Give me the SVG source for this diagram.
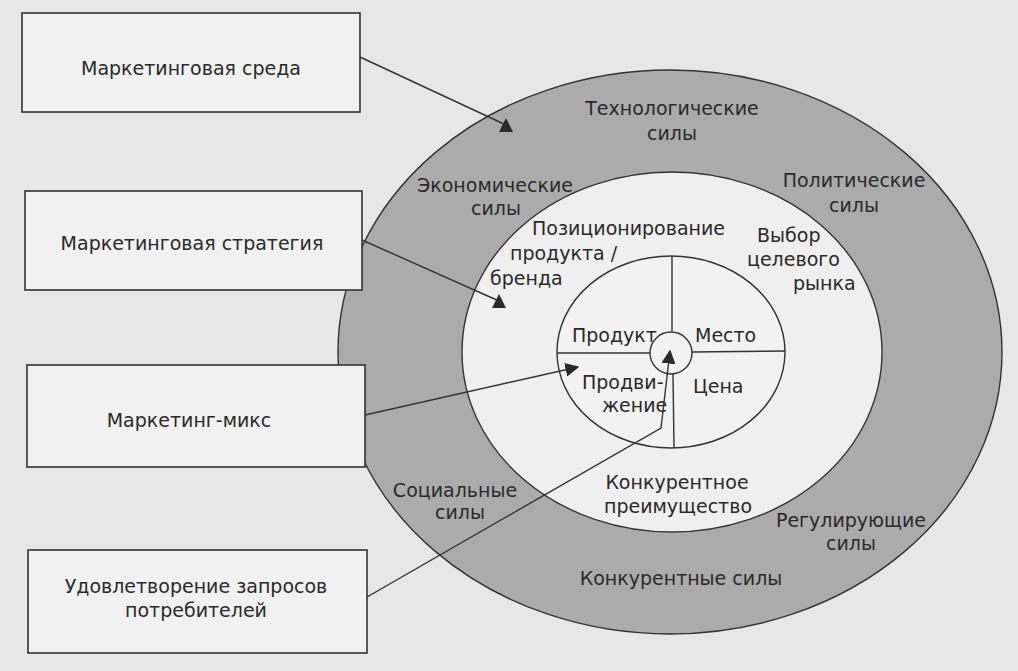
<svg xmlns="http://www.w3.org/2000/svg" width="1018" height="671" viewBox="0 0 1018 671">
<style>
.t{font-family:"DejaVu Sans","Liberation Sans",Arial,sans-serif;font-size:19px;fill:#2a2a2a}
.m{text-anchor:middle}
.box{fill:#f1f1f1;stroke:#333;stroke-width:1.6}
.ln{fill:none;stroke:#333;stroke-width:1.4}
</style>
<defs>
<marker id="arr" viewBox="0 0 10 10" refX="9" refY="5" markerWidth="14" markerHeight="14" markerUnits="userSpaceOnUse" orient="auto">
<path d="M0,0 L10,5 L0,10 z" fill="#2a2a2a"/>
</marker>
<marker id="tri" viewBox="0 0 10 10" refX="5" refY="5" markerWidth="14" markerHeight="14" markerUnits="userSpaceOnUse" orient="0">
<path d="M5,0 L10,10 L0,10 z" fill="#2a2a2a"/>
</marker>
</defs>
<rect x="0" y="0" width="1018" height="671" fill="#e7e7e7"/>
<g id="rings">
<ellipse cx="670" cy="352" rx="332" ry="282" fill="#ababab" stroke="#333" stroke-width="1.4"/>
<ellipse cx="672" cy="352" rx="210" ry="180" fill="#efefef" stroke="#333" stroke-width="1.4"/>
<ellipse cx="671" cy="352" rx="114" ry="96" fill="#f2f2f2" stroke="#333" stroke-width="1.4"/>
<line class="ln" x1="672" y1="256" x2="672" y2="331"/>
<line class="ln" x1="673" y1="374" x2="674" y2="448"/>
<line class="ln" x1="557" y1="353" x2="650" y2="353"/>
<line class="ln" x1="692" y1="352" x2="785" y2="351"/>
<circle cx="671" cy="353" r="21" fill="none" stroke="#333" stroke-width="1.4"/>
</g>
<g id="ring-labels">
<text class="t m" x="672" y="115">Технологические</text>
<text class="t m" x="672" y="140">силы</text>
<text class="t m" x="495" y="192">Экономические</text>
<text class="t m" x="496" y="215">силы</text>
<text class="t m" x="854" y="187">Политические</text>
<text class="t m" x="854" y="212">силы</text>
<text class="t m" x="455" y="497">Социальные</text>
<text class="t m" x="460" y="519">силы</text>
<text class="t m" x="851" y="527">Регулирующие</text>
<text class="t m" x="851" y="550">силы</text>
<text class="t m" x="681" y="585">Конкурентные силы</text>
<text class="t" x="532" y="235">Позиционирование</text>
<text class="t" x="510" y="260">продукта /</text>
<text class="t" x="490" y="285">бренда</text>
<text class="t" x="757" y="242">Выбор</text>
<text class="t" x="747" y="266">целевого</text>
<text class="t" x="793" y="290">рынка</text>
<text class="t m" x="677" y="489">Конкурентное</text>
<text class="t m" x="678" y="513">преимущество</text>
<text class="t" x="572" y="342">Продукт</text>
<text class="t" x="695" y="342">Место</text>
<text class="t" x="582" y="389">Продви-</text>
<text class="t" x="602" y="412">жение</text>
<text class="t" x="693" y="393">Цена</text>
</g>
<g id="node-environment">
<rect class="box" x="22" y="13" width="338" height="99"/>
<text class="t m" x="191" y="75">Маркетинговая среда</text>
</g>
<g id="node-strategy">
<rect class="box" x="25" y="191" width="337" height="99"/>
<text class="t m" x="192" y="250">Маркетинговая стратегия</text>
</g>
<g id="node-mix">
<rect class="box" x="27" y="365" width="338" height="102"/>
<text class="t m" x="189" y="427">Маркетинг-микс</text>
</g>
<g id="node-satisfaction">
<rect class="box" x="28" y="550" width="339" height="103"/>
<text class="t m" x="196" y="593">Удовлетворение запросов</text>
<text class="t m" x="196" y="617">потребителей</text>
</g>
<g id="connectors">
<polyline class="ln" points="360,57 506,125" marker-end="url(#tri)"/>
<polyline class="ln" points="362,240 499,301" marker-end="url(#tri)"/>
<polyline class="ln" points="365,415 578,367" marker-end="url(#arr)"/>
<polyline class="ln" points="367,597 661,428 670,351" marker-end="url(#arr)"/>
</g>
</svg>
